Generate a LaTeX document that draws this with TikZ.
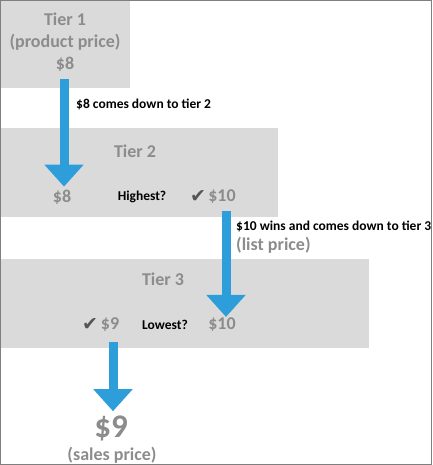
\documentclass[tikz,border=0pt]{standalone}
\usepackage{fontspec}
\setmainfont{Carlito}
\newfontfamily\symfont{DejaVu Sans}
\usetikzlibrary{arrows.meta}
\definecolor{tierGrey}{HTML}{DADADA}
\definecolor{priceGrey}{HTML}{8C8C8C}
\definecolor{flowBlue}{HTML}{2E9EDB}
\definecolor{frameGrey}{HTML}{7F7F7F}
\definecolor{tickGrey}{HTML}{555555}
\begin{document}
\begin{tikzpicture}[x=1pt,y=-1pt]
        \tikzset{tier/.style = {fill=tierGrey,anchor=north west,inner sep=0pt}}
        \tikzset{price/.style = {text=priceGrey,font=\bfseries\fontsize{18}{22}\selectfont,inner sep=0pt}}
        \tikzset{note/.style = {font=\bfseries\fontsize{13.5}{16}\selectfont,inner sep=0pt}}
        \tikzset{tick/.style = {text=tickGrey,font=\symfont\fontsize{19}{20}\selectfont,inner sep=0pt}}
        \tikzset{flow/.style = {flowBlue,line width=9pt,-{Triangle[width=38pt,length=22pt]}}}
        \useasboundingbox (0,0) rectangle (432,465);
        % tiers
        \node[tier,minimum width=130pt,minimum height=88pt] (tier1) at (0,0) {};
        \node[tier,minimum width=278pt,minimum height=89pt] (tier2) at (0,128) {};
        \node[tier,minimum width=369pt,minimum height=89pt] (tier3) at (0,259) {};
        % texts
        \node[price,align=center] (t1) at (65,42) {Tier 1\\(product price)\\\$8};
        \node[price] (t2) at (135,151) {Tier 2};
        \node[price] (p2a) at (62,197) {\$8};
        \node[note] (hi) at (142,197) {Highest?};
        \node[tick] (ck2) at (198,197) {✔};
        \node[price] (p2b) at (222,197) {\$10};
        \node[price] (t3) at (163,279) {Tier 3};
        \node[tick] (ck3) at (90,325) {✔};
        \node[price] (p3a) at (110,325) {\$9};
        \node[note] (lo) at (165,325) {Lowest?};
        \node[price] (p3b) at (222,325) {\$10};
        \node[price,font=\bfseries\fontsize{33}{36}\selectfont] (sale) at (111,428) {\$9};
        \node[price] (salelbl) at (112,455) {(sales price)};
        \node[note,anchor=west] (n1) at (76,104) {\$8 comes down to tier 2};
        \node[note,anchor=west] (n2) at (236,226) {\$10 wins and comes down to tier 3};
        \node[price,anchor=west] (n3) at (236,245) {(list price)};
        % arrows
        \coordinate (a1) at (64,79);
        \coordinate (a2) at (226,211);
        \coordinate (a3) at (113,342);
        \draw[flow,shorten >=3pt] (a1) -- (a1 |- p2a.north);
        \draw[flow,shorten >=1pt] (a2) -- (a2 |- p3b.north);
        \draw[flow,shorten >=4pt] (a3) -- (a3 |- sale.north);
        % frame
        \draw[frameGrey] (0.5,0.5) rectangle (431.5,464.5);
\end{tikzpicture}
\end{document}
